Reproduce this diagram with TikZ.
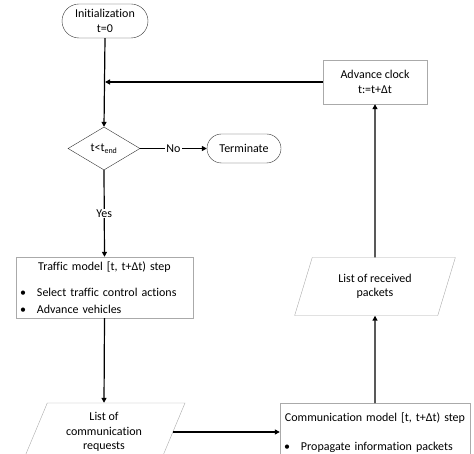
\documentclass[tikz,border=0pt]{standalone}
\usepackage{fontspec}
\setmainfont{Carlito}[Ligatures=NoCommon]
\usetikzlibrary{shapes.geometric, shapes.misc, arrows.meta}

\definecolor{boxgray}{RGB}{170,170,170}

\begin{document}
\begin{tikzpicture}[
x=1pt, y=-1pt,
>={Triangle[length=5pt, width=5pt]},
every node/.style={font=\fontsize{12}{14.5}\selectfont, text=black},
termnode/.style={rounded rectangle, draw=black!80, align=center, inner sep=0pt},
decnode/.style={diamond, draw=black!80, inner sep=0pt, minimum width=72pt, minimum height=43pt},
procbox/.style={rectangle, draw=boxgray, inner xsep=4pt},
iobox/.style={trapezium, trapezium left angle=67.5, trapezium right angle=112.5,
  trapezium stretches=true, draw=boxgray, align=center, inner sep=0pt,
  minimum width=162pt, minimum height=58pt}
]
\useasboundingbox (0,0) rectangle (474,454);

\node[termnode, minimum width=86pt, minimum height=34pt] at (105, 21) (init) {Initialization\\t=0};
\node[decnode] at (104, 148.5) (check) {t<t\textsubscript{end}};
\node[termnode, minimum width=74pt, minimum height=29pt] at (244, 148.5) (term) {Terminate};
\node[procbox, align=center, minimum width=104pt, minimum height=44pt] at (375, 82) (clock) {Advance clock\\t:=t+Δt};
\node[procbox, text width=169pt, minimum height=61pt] at (104.5, 287.5) (traffic)
  {\centering Traffic model [t, t+Δt) step\par\vspace{12pt}\raggedright
   \makebox[17pt][l]{\textbullet}Select traffic control actions\\[2pt]
   \makebox[17pt][l]{\textbullet}Advance vehicles};
\node[iobox] at (104, 432) (requests) {List of\\communication\\requests};
\node[procbox, anchor=north, text width=182pt, inner ysep=10pt] at (375, 403) (comm)
  {\centering Communication model [t, t+Δt) step\par\vspace{14pt}\raggedright
   \makebox[17pt][l]{\textbullet}Propagate information packets\\[20pt]};
\node[iobox] at (375, 286.5) (received) {List of received\\packets};

\draw[->, very thick] (init.south) -- (check.north);
\draw[->, very thick] (check.east) -- node[fill=white, inner sep=1pt] {No} (term.west);
\draw[->, very thick] (check.south) -- node[fill=white, inner sep=1pt] {Yes} (traffic.north);
\draw[->, very thick] (traffic.south) -- (requests.north);
\draw[->, very thick] (requests.east) -- (requests.east -| comm.west);
\draw[->, very thick] (comm.north) -- (received.south);
\draw[->, very thick] (received.north) -- (clock.south);
\draw[->, very thick] (clock.west) -- (clock.west -| init.south);
\end{tikzpicture}
\end{document}
